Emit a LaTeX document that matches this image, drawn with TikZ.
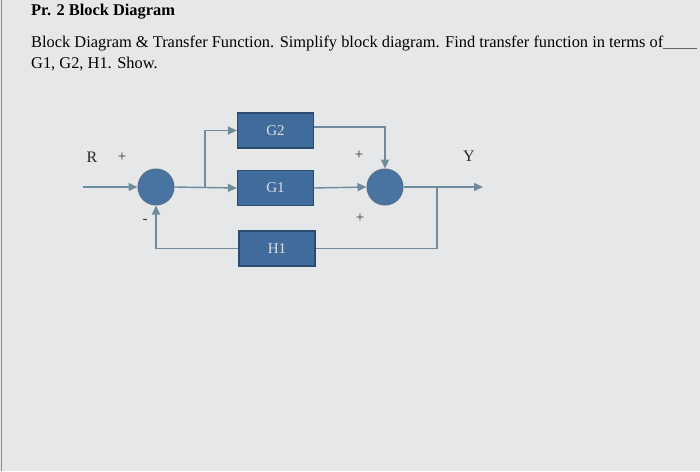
\documentclass[tikz,border=0pt]{standalone}
\usepackage{fontspec}
\setmainfont{Liberation Serif}
\usetikzlibrary{arrows.meta}
\definecolor{paper}{HTML}{E6E7E8}
\definecolor{blockfill}{HTML}{3F6C9B}
\definecolor{blockedge}{HTML}{2B4B70}
\definecolor{wire}{HTML}{6F8C9C}
\definecolor{blocktext}{HTML}{D9DEE6}
\tikzset{
  blk/.style={draw=blockedge, line width=1.3pt, fill=blockfill, minimum width=76pt, minimum height=35pt, inner sep=0pt, text=blocktext, font=\fontsize{15}{15}\selectfont},
  sumj/.style={circle, draw=blockedge!80, line width=1pt, fill=blockfill!95, minimum size=36pt, inner sep=0pt},
  wirel/.style={draw=wire, line width=1.4pt},
  sig/.style={wirel, -{Triangle[length=9pt,width=8pt]}},
  lbl/.style={font=\fontsize{16}{16}\selectfont, text=black!85},
  sgn/.style={font=\fontsize{15}{15}\selectfont, text=black!80}
}
\begin{document}
\begin{tikzpicture}[x=1pt,y=-1pt]
\useasboundingbox (0,0) rectangle (700,471);
\fill[paper] (0,0) rectangle (700,471);
\draw[black!45, line width=1pt] (1.5,0) -- (1.5,471);
% header text
\node[anchor=base west, inner sep=0pt, font=\fontsize{16.4}{16.4}\selectfont\bfseries] (title) at (31,15) {Pr. 2 Block Diagram};
\node[anchor=base west, inner sep=0pt, font=\fontsize{16.4}{16.4}\selectfont] (l1) at (31,47) {Block Diagram \& Transfer Function. Simplify block diagram. Find transfer function in terms of};
\node[anchor=base west, inner sep=0pt, font=\fontsize{16.4}{16.4}\selectfont] (l2) at (31,68) {G1, G2, H1. Show.};
\coordinate (ulend) at (697,48);
\draw[black!60, line width=0.6pt] (l1.base east) ++(0,1) -- (ulend);
% blocks
\node[blk] (G2) at (275.5,130.5) {G2};
\node[blk] (G1) at (275.5,188) {G1};
\node[blk] (H1) at (277,248.5) {H1};
\node[sumj] (S1) at (156,187) {};
\node[sumj] (S2) at (385,187) {};
\coordinate (Rin) at (83,187);
\coordinate (br1) at (205,187);
\coordinate (br2) at (437,187);
\coordinate (Yout) at (483,187);
% connectors
\draw[sig] (Rin) -- (S1.west);
\draw[sig] (S1.east) -- (G1.west);
\draw[sig] (br1) |- (G2.west);
\draw[sig] (G2.east |- 0,127) -| (S2.north);
\draw[sig] (G1.east) -- (S2.west);
\draw[sig] (S2.east) -- (Yout);
\draw[wirel] (br2) |- (H1.east);
\draw[sig] (H1.west) -| (S1.south);
% labels
\node[lbl] (R) at (92,157) {R};
\node[sgn] (p1) at (122,157) {+};
\node[sgn] (m1) at (145,221) {-};
\node[sgn] (p2) at (359,155) {+};
\node[sgn] (p3) at (360,218) {+};
\node[lbl] (Y) at (469,156) {Y};
\end{tikzpicture}
\end{document}
